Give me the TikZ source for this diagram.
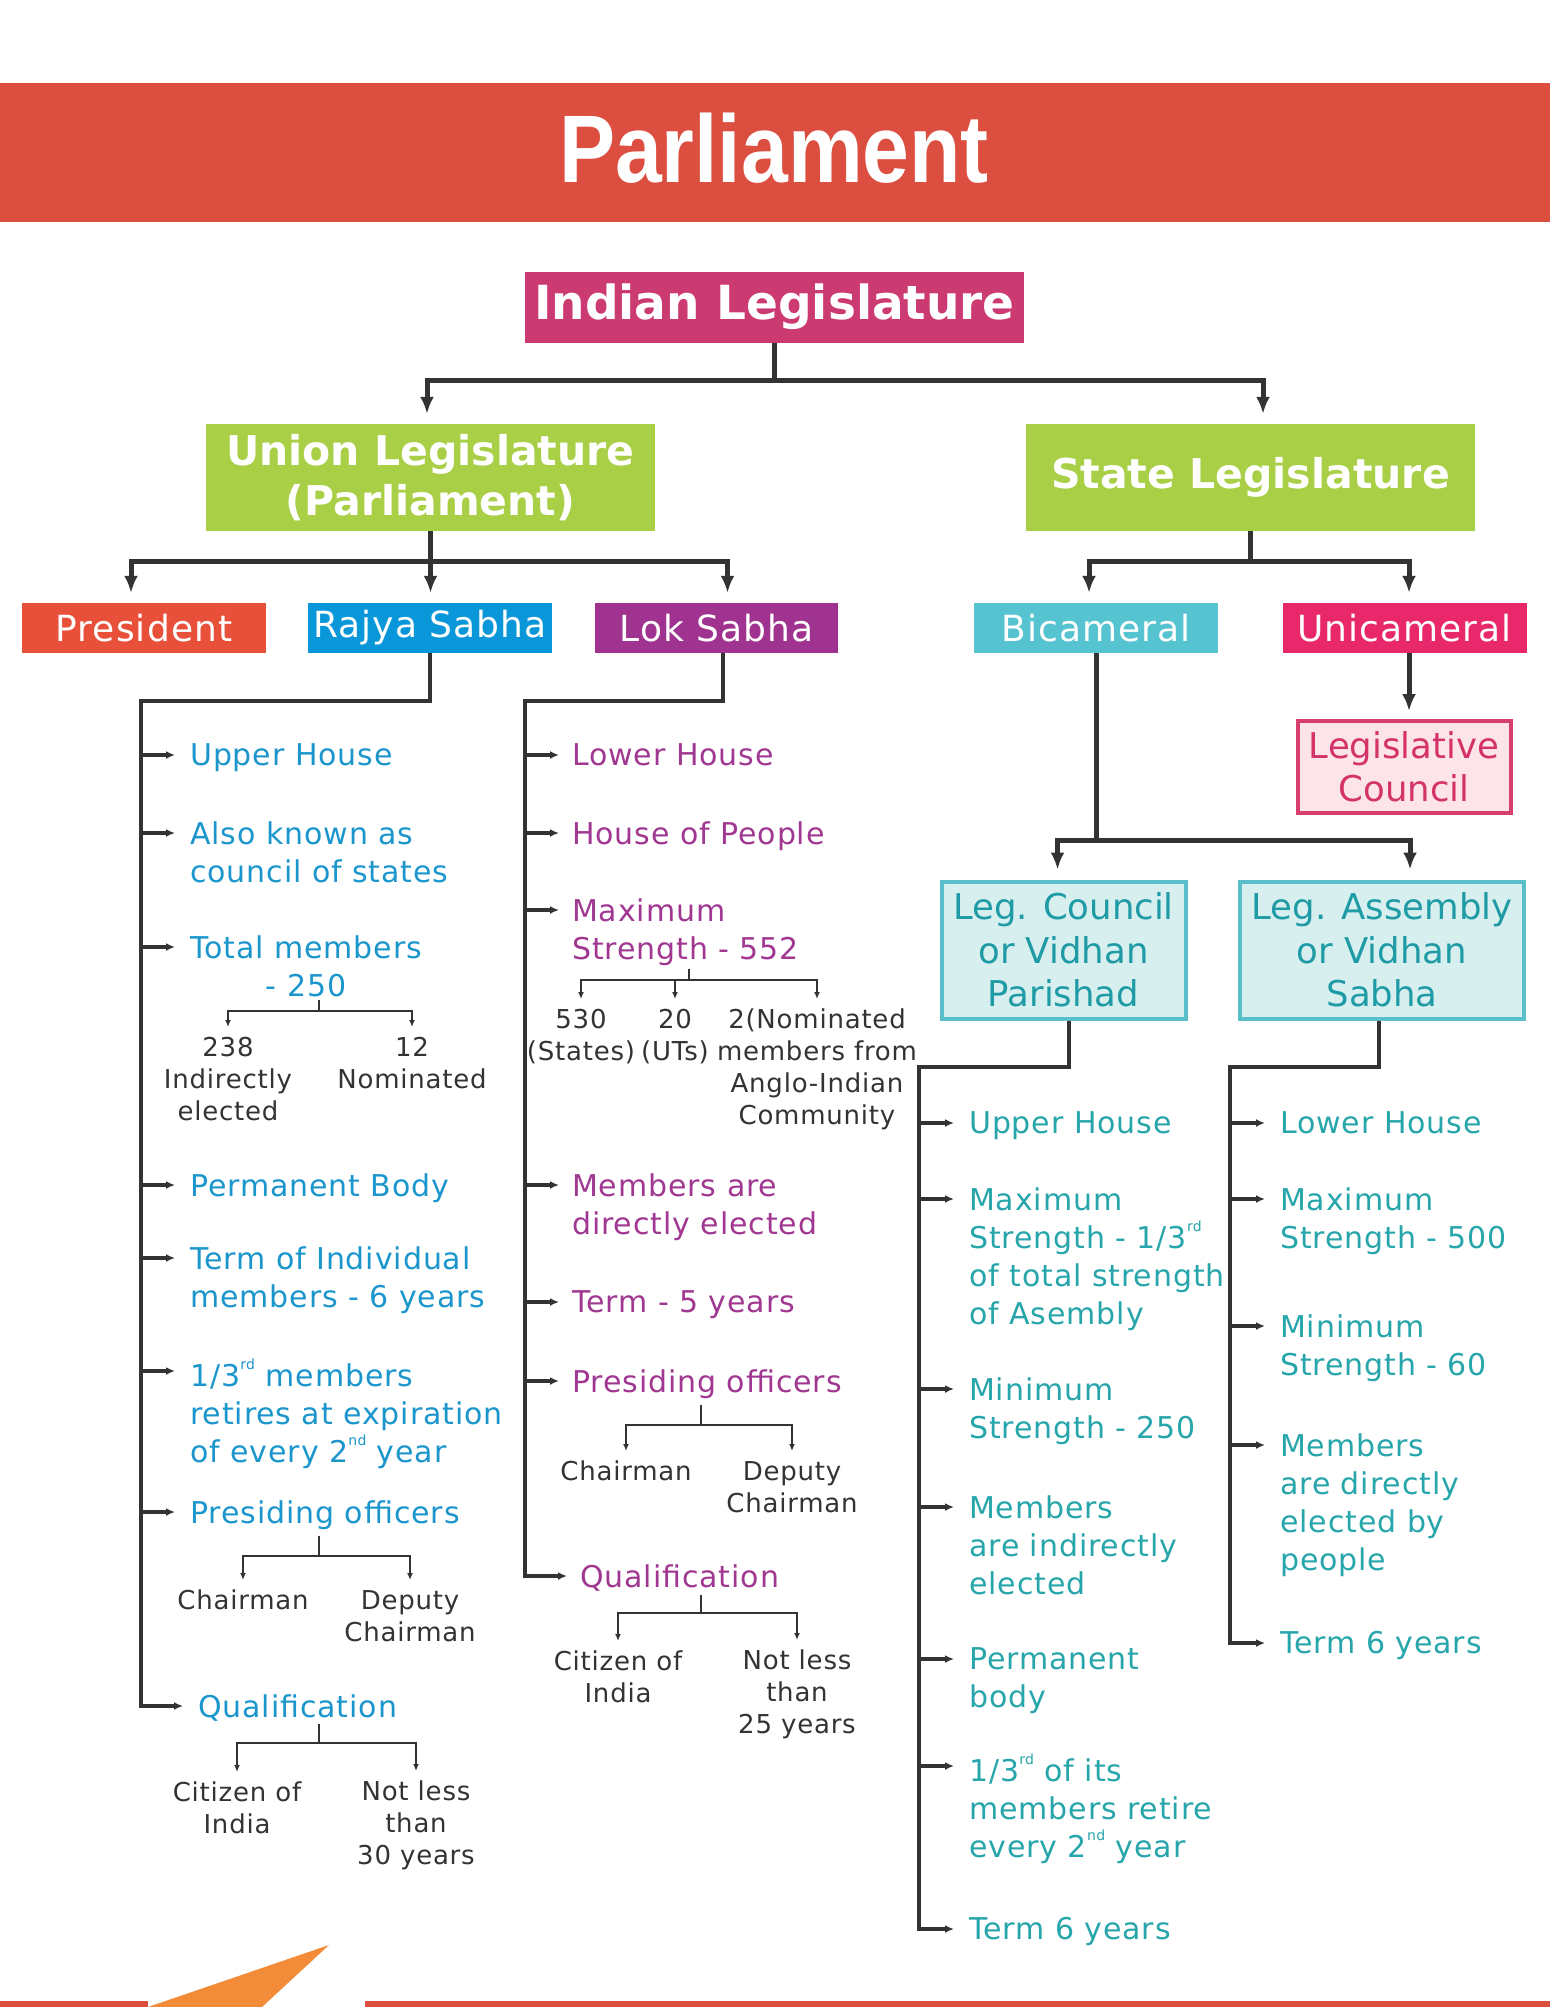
\documentclass[tikz,border=0pt]{standalone}
\usepackage{fontspec}
\usepackage{graphicx}
\usetikzlibrary{arrows.meta}
\setmainfont{DejaVu Sans}
\newfontfamily\itemfont[LetterSpace=3]{DejaVu Sans}
\newfontfamily\titlefont{Liberation Sans}
\definecolor{dk}{HTML}{333333}
\definecolor{bandred}{HTML}{DB4E40}
\definecolor{ilpink}{HTML}{CC3A72}
\definecolor{lgreen}{HTML}{A8CF45}
\definecolor{presred}{HTML}{E9503A}
\definecolor{rsblue}{HTML}{0A97D9}
\definecolor{lspurple}{HTML}{A0338F}
\definecolor{bicyan}{HTML}{56C3D0}
\definecolor{unipink}{HTML}{E8286A}
\definecolor{lcfill}{HTML}{FCE4E8}
\definecolor{lcborder}{HTML}{D63E6C}
\definecolor{lctext}{HTML}{D4336A}
\definecolor{tealfill}{HTML}{D8EFF0}
\definecolor{tealborder}{HTML}{5BBFC9}
\definecolor{tealtext}{HTML}{1E9BA5}
\definecolor{rstext}{HTML}{1B96CD}
\definecolor{lstext}{HTML}{A03791}
\definecolor{ittext}{HTML}{26A5AA}
\definecolor{plorange}{HTML}{F28C38}
\newcommand\supx[1]{\raisebox{0.55em}{\fontsize{14}{14}\selectfont #1}}
\begin{document}
\begin{tikzpicture}[x=1pt,y=-1pt,
  box/.style={inner sep=0pt, align=center, text=white},
  hd/.style={box, font=\bfseries\fontsize{41}{50}\selectfont},
  lbl/.style={box, minimum height=50pt, font=\itemfont\fontsize{36}{43}\selectfont},
  obox/.style={draw, line width=4pt, inner sep=0pt, align=center, font=\fontsize{35.5}{43.5}\selectfont},
  item/.style={anchor=north west, inner sep=0pt, align=left, font=\itemfont\fontsize{30}{38}\selectfont},
  sub/.style={anchor=north, inner sep=0pt, align=center, text=dk, font=\itemfont\fontsize{26}{32}\selectfont},
  main/.style={line width=5pt, draw=dk},
  mainarr/.style={main, -{Latex[length=17pt,width=14pt]}, shorten >=10pt},
  trunk/.style={line width=4pt, draw=dk},
  arr/.style={line width=3.5pt, draw=dk, -{Latex[length=9pt,width=8pt]}},
  brk/.style={line width=2.5pt, draw=dk},
  brkarr/.style={brk, -{Latex[length=7pt,width=6pt]}, shorten >=10pt}
]
\fill[white] (0,0) rectangle (1550,2007);
\useasboundingbox (0,0) rectangle (1550,2007);

% title band
\fill[bandred] (0,83) rectangle (1550,222);
\node[anchor=base, inner sep=0pt, text=white, font=\titlefont\bfseries\fontsize{96}{96}\selectfont] (title) at (774,182) {\scalebox{0.876}[1]{Parliament}};

% top level
\node[box, fill=ilpink, minimum width=499pt, minimum height=71pt, font=\bfseries\fontsize{47}{56}\selectfont] (il) at (774.5,307) {Indian Legislature};
\node[hd, fill=lgreen, minimum width=449pt, minimum height=107pt] (ul) at (430.5,477.5) {Union Legislature\\(Parliament)};
\node[hd, fill=lgreen, minimum width=449pt, minimum height=107pt] (sl) at (1250.5,477.5) {State Legislature};

\node[lbl, fill=presred, minimum width=244pt] (pr) at (144,628) {President};
\node[lbl, fill=rsblue, minimum width=244pt] (rs) at (430,628) {Rajya Sabha};
\node[lbl, fill=lspurple, minimum width=243pt] (ls) at (716.5,628) {Lok Sabha};
\node[lbl, fill=bicyan, minimum width=244pt] (bi) at (1096,628) {Bicameral};
\node[lbl, fill=unipink, minimum width=244pt] (un) at (1404.5,628) {Unicameral};

\node[obox, draw=lcborder, fill=lcfill, text=lctext, minimum width=213pt, minimum height=92pt] (lcp) at (1404,767) {Legislative\\Council};
\node[obox, draw=tealborder, fill=tealfill, text=tealtext, minimum width=244pt, minimum height=137pt] (lc) at (1063.5,950) {Leg. Council\\or Vidhan\\Parishad};
\node[obox, draw=tealborder, fill=tealfill, text=tealtext, minimum width=284pt, minimum height=137pt] (la) at (1382,950) {Leg. Assembly\\or Vidhan\\Sabha};

% top connectors
\coordinate (ilh) at (774.5,380);
\draw[main] (il.south) -- (ilh);
\draw[mainarr] (ilh) -| ([xshift=-3.5pt]ul.north);
\draw[mainarr] (ilh) -| ([xshift=12.5pt]sl.north);

\coordinate (ulh) at (430.5,561);
\draw[main] (ul.south) -- (ulh);
\draw[mainarr] (ulh) -| ([xshift=-13pt]pr.north);
\draw[mainarr] (ulh) -- (ulh |- rs.north);
\draw[mainarr] (ulh) -| ([xshift=11pt]ls.north);

\coordinate (slh) at (1250.5,561);
\draw[main] (sl.south) -- (slh);
\draw[mainarr] (slh) -| ([xshift=-7pt]bi.north);
\draw[mainarr] (slh) -| ([xshift=4.5pt]un.north);

\draw[mainarr, shorten >=8pt] ([xshift=4.5pt]un.south) -- ([xshift=4.5pt]un.south |- lcp.north);

\coordinate (bih) at (1096,840);
\draw[main] (bi.south) -- (bih);
\draw[mainarr] (bih) -| ([xshift=-6pt]lc.north);
\draw[mainarr] (bih) -| ([xshift=28pt]la.north);

% ---------------- Rajya Sabha list
\begin{scope}[every node/.append style={text=rstext}]
\node[item] (r1) at (190,743) {Upper House};
\node[item] (r2) at (190,821) {Also known as\\council of states};
\node[item, align=center] (r3) at (190,935) {Total members\\- 250};
\node[item] (r4) at (190,1173) {Permanent Body};
\node[item] (r5) at (190,1246) {Term of Individual\\members - 6 years};
\node[item] (r6) at (190,1359) {1/3\supx{rd} members\\retires at expiration\\of every 2\supx{nd} year};
\node[item] (r7) at (190,1500) {Presiding officers};
\node[item] (r8) at (198,1694) {Qualification};
\end{scope}
\node[sub] (s238) at (228,1037) {238\\Indirectly\\elected};
\node[sub] (s12) at (412,1037) {12\\Nominated};
\node[sub] (rch) at (243,1590) {Chairman};
\node[sub] (rdc) at (410,1590) {Deputy\\Chairman};
\node[sub] (rci) at (237,1782) {Citizen of\\India};
\node[sub] (rnl) at (416,1781) {Not less\\than\\30 years};

\coordinate (rt) at (141,701);
\foreach \n in {r1,r2,r3,r4,r5,r6,r7,r8}{\coordinate (a\n) at ([xshift=-15pt,yshift=-12pt]\n.north west);}
\draw[trunk, -{Latex[length=9pt,width=8pt]}] (rs.south) |- (rt) -- (rt |- ar8) -- (ar8);
\foreach \n in {r1,r2,r3,r4,r5,r6,r7}{\draw[arr] (rt |- a\n) -- (a\n);}

\coordinate (rb1) at (319,1000);
\draw[brk] (rb1) -- ++(0,11) coordinate (rb1m);
\draw[brkarr] (rb1m) -| (s238.north);
\draw[brkarr] (rb1m) -| (s12.north);
\coordinate (rb2) at (319,1536);
\draw[brk] (rb2) -- ++(0,20) coordinate (rb2m);
\draw[brkarr] (rb2m) -| (rch.north);
\draw[brkarr] (rb2m) -| (rdc.north);
\coordinate (rb3) at (319,1724);
\draw[brk] (rb3) -- ++(0,19) coordinate (rb3m);
\draw[brkarr] (rb3m) -| (rci.north);
\draw[brkarr] (rb3m) -| (rnl.north);

% ---------------- Lok Sabha list
\begin{scope}[every node/.append style={text=lstext}]
\node[item] (l1) at (572,743) {Lower House};
\node[item] (l2) at (572,821) {House of People};
\node[item] (l3) at (572,898) {Maximum\\Strength - 552};
\node[item] (l4) at (572,1173) {Members are\\directly elected};
\node[item] (l5) at (572,1290) {Term - 5 years};
\node[item] (l6) at (572,1369) {Presiding officers};
\node[item] (l7) at (580,1564) {Qualification};
\end{scope}
\node[sub] (s530) at (581,1009) {530\\(States)};
\node[sub] (s20) at (675,1009) {20\\(UTs)};
\node[sub] (s2) at (817,1009) {2(Nominated\\members from\\Anglo-Indian\\Community};
\node[sub] (lch) at (626,1461) {Chairman};
\node[sub] (ldc) at (792,1461) {Deputy\\Chairman};
\node[sub] (lci) at (618,1651) {Citizen of\\India};
\node[sub] (lnl) at (797,1650) {Not less\\than\\25 years};

\coordinate (lt) at (525,701);
\foreach \n in {l1,l2,l3,l4,l5,l6,l7}{\coordinate (a\n) at ([xshift=-13pt,yshift=-12pt]\n.north west);}
\draw[trunk, -{Latex[length=9pt,width=8pt]}] ([xshift=6pt]ls.south) |- (lt) -- (lt |- al7) -- (al7);
\foreach \n in {l1,l2,l3,l4,l5,l6}{\draw[arr] (lt |- a\n) -- (a\n);}

\coordinate (lb1) at (689,969);
\draw[brk] (lb1) -- ++(0,11) coordinate (lb1m);
\draw[brkarr] (lb1m) -| (s530.north);
\draw[brkarr] (lb1m) -| (s20.north);
\draw[brkarr] (lb1m) -| (s2.north);
\coordinate (lb2) at (701,1405);
\draw[brk] (lb2) -- ++(0,20) coordinate (lb2m);
\draw[brkarr] (lb2m) -| (lch.north);
\draw[brkarr] (lb2m) -| (ldc.north);
\coordinate (lb3) at (701,1595);
\draw[brk] (lb3) -- ++(0,18) coordinate (lb3m);
\draw[brkarr] (lb3m) -| (lci.north);
\draw[brkarr] (lb3m) -| (lnl.north);

% ---------------- Leg. Council list
\begin{scope}[every node/.append style={text=ittext}]
\node[item] (c1) at (969,1111) {Upper House};
\node[item] (c2) at (969,1187) {Maximum\\Strength - 1/3\supx{rd}\\of total strength\\of Asembly};
\node[item] (c3) at (969,1377) {Minimum\\Strength - 250};
\node[item] (c4) at (969,1495) {Members\\are indirectly\\elected};
\node[item] (c5) at (969,1647) {Permanent\\body};
\node[item] (c6) at (969,1754) {1/3\supx{rd} of its\\members retire\\every 2\supx{nd} year};
\node[item] (c7) at (969,1917) {Term 6 years};
\end{scope}
\coordinate (ct) at (919,1067);
\foreach \n in {c1,c2,c3,c4,c5,c6,c7}{\coordinate (a\n) at ([xshift=-15pt,yshift=-12pt]\n.north west);}
\draw[trunk, -{Latex[length=9pt,width=8pt]}] ([xshift=5.5pt]lc.south) |- (ct) -- (ct |- ac7) -- (ac7);
\foreach \n in {c1,c2,c3,c4,c5,c6}{\draw[arr] (ct |- a\n) -- (a\n);}

% ---------------- Leg. Assembly list
\begin{scope}[every node/.append style={text=ittext}]
\node[item] (a1) at (1280,1111) {Lower House};
\node[item] (a2) at (1280,1187) {Maximum\\Strength - 500};
\node[item] (a3) at (1280,1314) {Minimum\\Strength - 60};
\node[item] (a4) at (1280,1433) {Members\\are directly\\elected by\\people};
\node[item] (a5) at (1280,1631) {Term 6 years};
\end{scope}
\coordinate (at) at (1230,1067);
\foreach \n in {a1,a2,a3,a4,a5}{\coordinate (a\n) at ([xshift=-15pt,yshift=-12pt]\n.north west);}
\draw[trunk, -{Latex[length=9pt,width=8pt]}] ([xshift=-3pt]la.south) |- (at) -- (at |- aa5) -- (aa5);
\foreach \n in {a1,a2,a3,a4}{\draw[arr] (at |- a\n) -- (a\n);}

% bottom decoration
\fill[bandred] (0,2001) rectangle (148,2007);
\fill[bandred] (365,2001) rectangle (1550,2007);
\fill[plorange] (148,2007) -- (329,1945) -- (262,2007) -- cycle;
\end{tikzpicture}
\end{document}
